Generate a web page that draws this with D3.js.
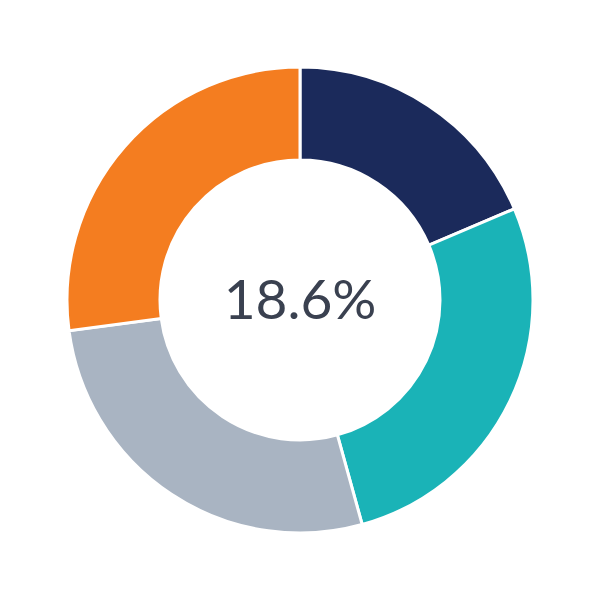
<!DOCTYPE html>
<html>
<head>
<meta charset="utf-8">
<script src="https://cdn.jsdelivr.net/npm/d3@7"></script>
<style>
  body { margin: 0; background: #fff; }
</style>
</head>
<body>
<div id="donut"></div>
<script>
// slice values, clockwise from 12 o'clock
const categories = ['A', 'B', 'C', 'D'];
const values = [18.6, 27.1, 27.2, 27.1];
const sliceColors = ['#1b2a5b', '#1ab3b7', '#a9b4c2', '#f47d20'];

const width = 600;
const height = 600;
const outerRadius = 233;
const innerRadius = 140;

const data = categories.map((c, i) => ({ category: c, value: values[i] }));

const svg = d3.select("#donut")
    .append("svg")
    .attr("width", width)
    .attr("height", height)
    .append("g")
    .attr("transform", `translate(${width / 2}, ${height / 2})`);

const pie = d3.pie()
    .sort(null)
    .value(d => d.value);

const arc = d3.arc()
    .innerRadius(innerRadius)
    .outerRadius(outerRadius);

const color = d3.scaleOrdinal()
    .domain(categories)
    .range(sliceColors);

svg.selectAll("path.slice")
    .data(pie(data))
    .enter()
    .append("path")
    .attr("class", "slice")
    .attr("d", arc)
    .attr("fill", d => color(d.data.category))
    .attr("stroke", "#fff")
    .attr("stroke-width", 3);

// centre label shows the first slice
svg.append("text")
    .attr("x", 0)
    .attr("y", 0)
    .attr("dy", "0.35em")
    .style("text-anchor", "middle")
    .style("font-family", "Lato, sans-serif")
    .style("font-size", "55px")
    .style("fill", "#3a4150")
    .text(d3.format(".1f")(data[0].value) + "%");
</script>
</body>
</html>
